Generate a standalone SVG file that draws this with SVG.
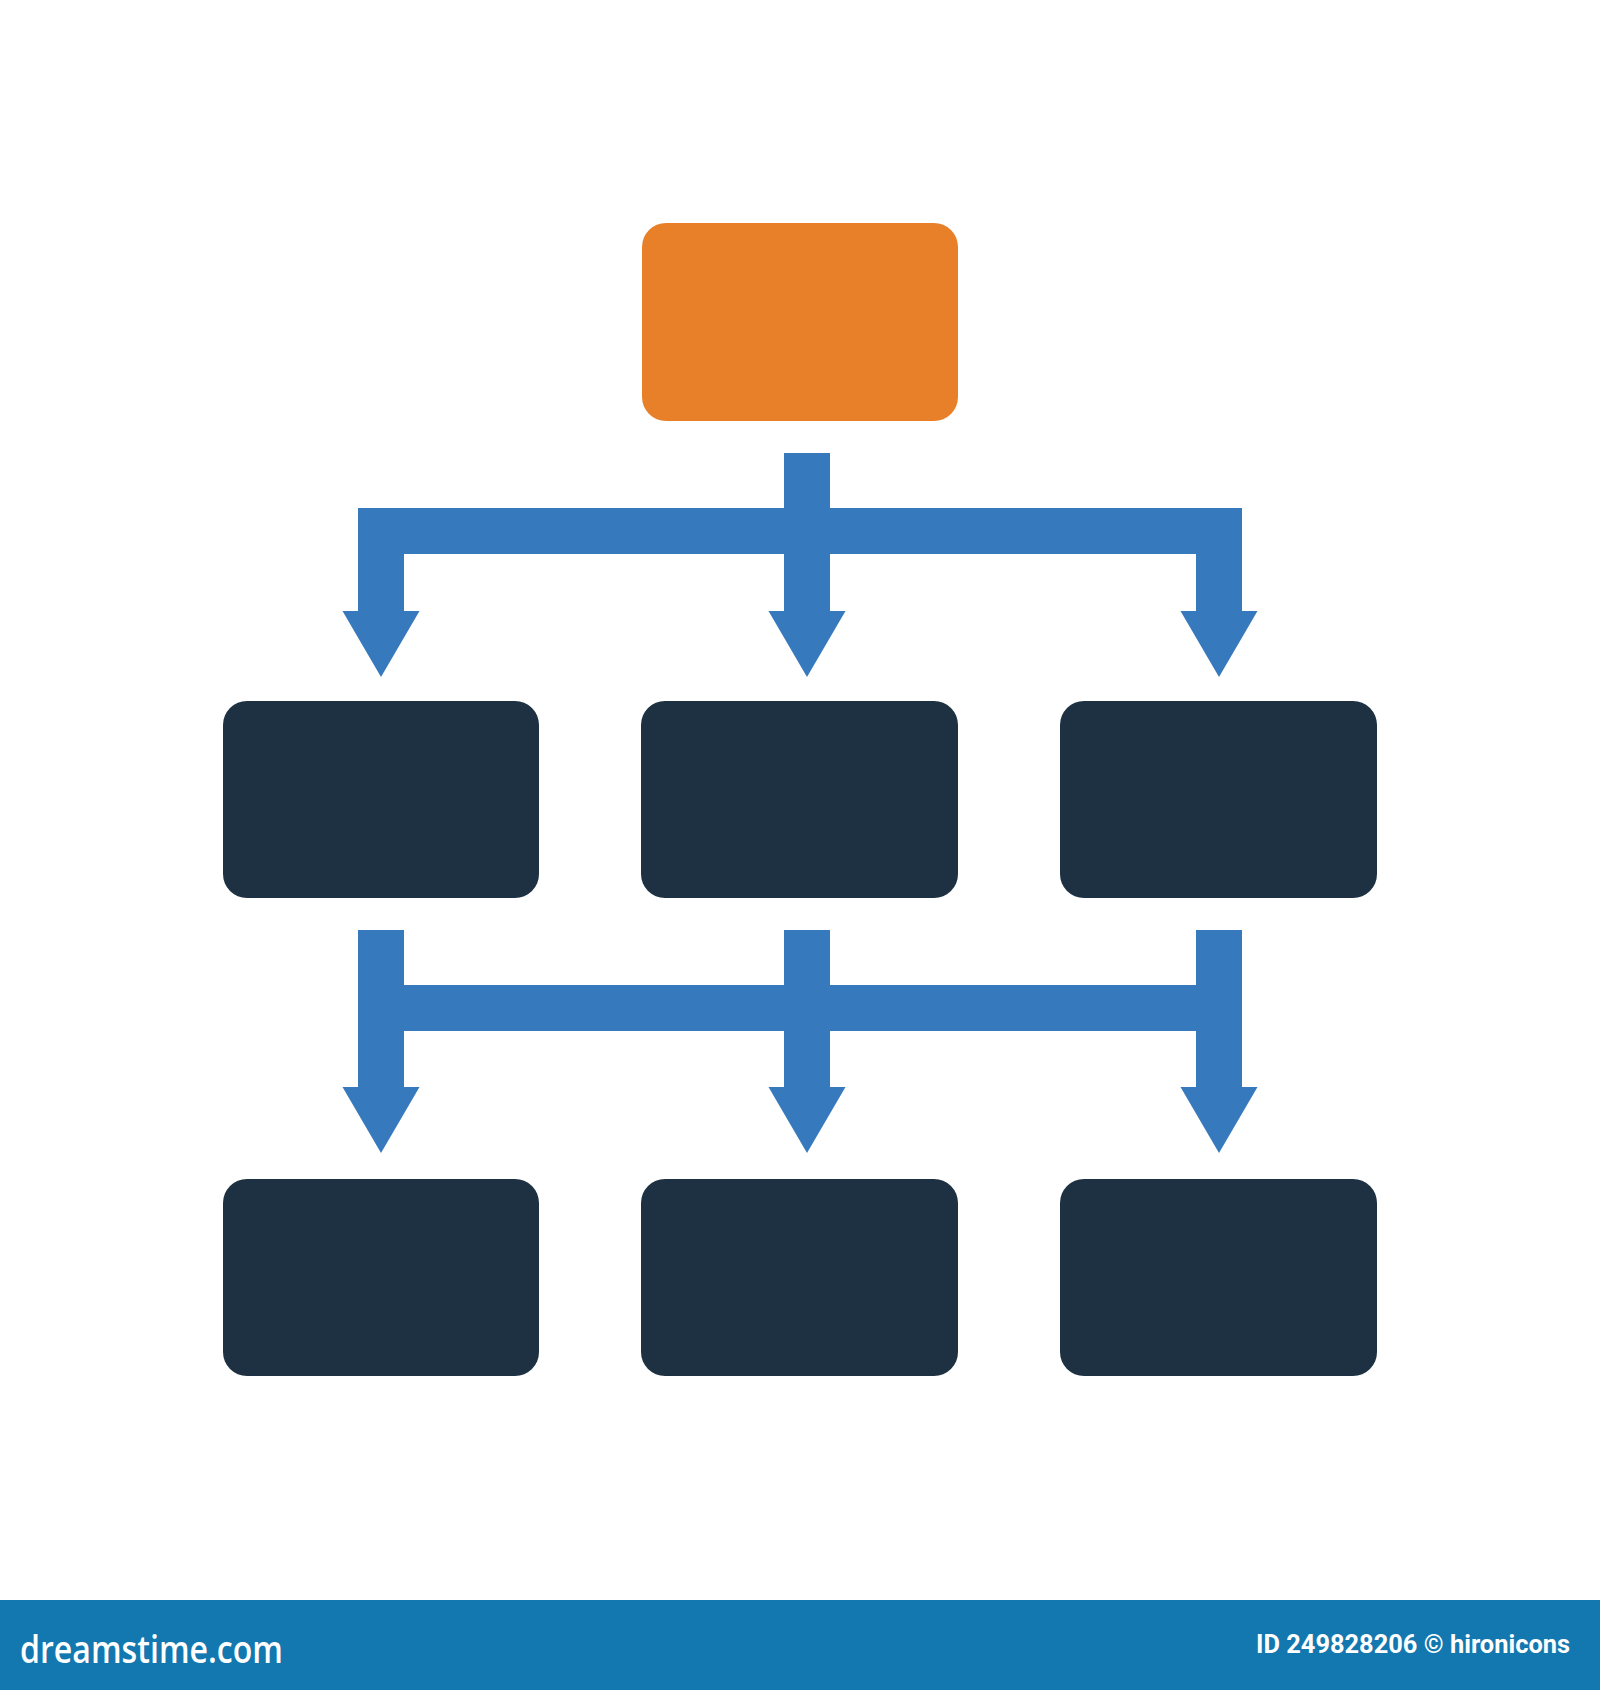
<svg xmlns="http://www.w3.org/2000/svg" width="1600" height="1690" viewBox="0 0 1600 1690">
<style>
.root{fill:#e8802a}
.box{fill:#1d3142}
.conn{fill:#3679bd}
.banner{fill:#1377b0}
.logo{fill:#ffffff;font-family:"Open Sans","Liberation Sans",sans-serif;font-weight:600;font-size:38px}
.credit{fill:#ffffff;font-family:Roboto,"Liberation Sans",sans-serif;font-weight:bold;font-size:25px}
</style>
<defs>
<path id="ah" d="M-38.5,0 L38.5,0 L0,66 Z"/>
</defs>
<rect width="1600" height="1690" fill="#ffffff"/>
<g id="connectors">
<!-- top level -->
<rect class="conn" x="784" y="453" width="46" height="160"/>
<rect class="conn" x="358" y="508" width="884" height="46"/>
<rect class="conn" x="358" y="508" width="46" height="105"/>
<rect class="conn" x="1196" y="508" width="46" height="105"/>
<use href="#ah" class="conn" x="381" y="611"/>
<use href="#ah" class="conn" x="807" y="611"/>
<use href="#ah" class="conn" x="1219" y="611"/>
<!-- second level -->
<rect class="conn" x="358" y="930" width="46" height="159"/>
<rect class="conn" x="784" y="930" width="46" height="159"/>
<rect class="conn" x="1196" y="930" width="46" height="159"/>
<rect class="conn" x="358" y="985" width="884" height="46"/>
<use href="#ah" class="conn" x="381" y="1087"/>
<use href="#ah" class="conn" x="807" y="1087"/>
<use href="#ah" class="conn" x="1219" y="1087"/>
</g>
<g id="node-root"><rect class="root" x="642" y="223" width="316" height="198" rx="24"/></g>
<g id="node-a1"><rect class="box" x="223" y="701" width="316" height="197" rx="24"/></g>
<g id="node-a2"><rect class="box" x="641" y="701" width="317" height="197" rx="24"/></g>
<g id="node-a3"><rect class="box" x="1060" y="701" width="317" height="197" rx="24"/></g>
<g id="node-b1"><rect class="box" x="223" y="1179" width="316" height="197" rx="24"/></g>
<g id="node-b2"><rect class="box" x="641" y="1179" width="317" height="197" rx="24"/></g>
<g id="node-b3"><rect class="box" x="1060" y="1179" width="317" height="197" rx="24"/></g>
<g id="banner">
<rect class="banner" x="0" y="1600" width="1600" height="90"/>
<text class="logo" x="20" y="1663" textLength="263" lengthAdjust="spacingAndGlyphs">dreamstime.com</text>
<text class="credit" x="1256" y="1653" textLength="314" lengthAdjust="spacingAndGlyphs">ID 249828206 © hironicons</text>
</g>
</svg>
